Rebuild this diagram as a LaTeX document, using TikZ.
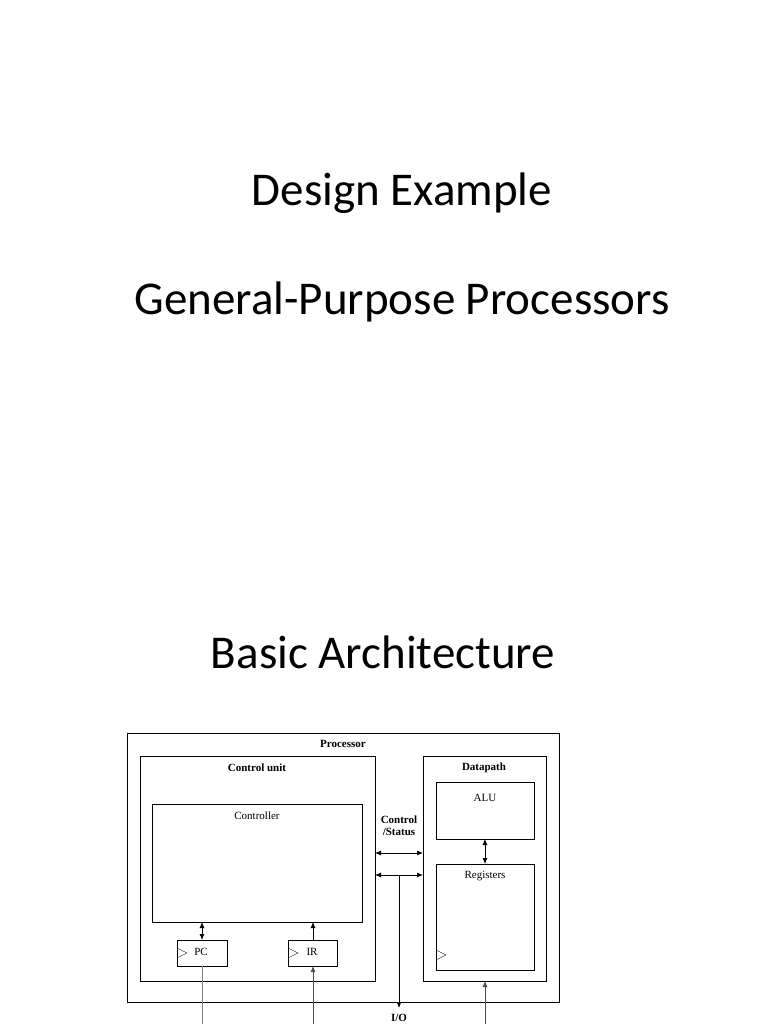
\documentclass[tikz,border=0pt]{standalone}
\usepackage{fontspec}
\setmainfont{Liberation Serif}
\newfontfamily\titlefont{Carlito}
\usetikzlibrary{arrows.meta}
\begin{document}
\begin{tikzpicture}[x=1pt,y=-1pt,
 box/.style={draw,line width=0.8pt},
 ttl/.style={font=\titlefont\fontsize{47}{50}\selectfont},
 lab/.style={font=\fontsize{11}{12}\selectfont},
 blab/.style={font=\bfseries\fontsize{11}{12}\selectfont, align=center},
 arr/.style={-{Latex[length=6pt,width=5pt]},line width=0.8pt},
 darr/.style={{Latex[length=6pt,width=5pt]}-{Latex[length=6pt,width=5pt]},line width=0.8pt},
 gl/.style={draw=gray,line width=1pt}]
\useasboundingbox (0,0) rectangle (768,1024);
\node[ttl] (t1) at (402,193) {Design Example};
\node[ttl] (t2) at (402,302) {General-Purpose Processors};
\node[ttl] (t3) at (383,652) {Basic Architecture};
\draw[box] (127,733) rectangle (559,1002);
\node[blab] (proc) at (343,744) {Processor};
\draw[box] (140,756) rectangle (375,981);
\node[blab] (cu) at (257,768) {Control unit};
\draw[box] (423,756) rectangle (546,981);
\node[blab] (dp) at (484,768) {Datapath};
\node[box,minimum width=210,minimum height=118,anchor=north west] (ctl) at (152,804) {};
\node[lab] at (257,816) {Controller};
\node[box,minimum width=98,minimum height=57,anchor=north west] (alu) at (436,782) {};
\node[lab] at (485,798) {ALU};
\node[box,minimum width=98,minimum height=106,anchor=north west] (reg) at (436,864) {};
\node[lab] at (485,876) {Registers};
\draw (436,950) -- (446,955) -- (436,960);
\node[box,minimum width=50,minimum height=26,anchor=north west] (pc) at (177,940) {};
\node[lab] at (201,952) {PC};
\draw (177,948) -- (187,953) -- (177,958);
\node[box,minimum width=49,minimum height=26,anchor=north west] (ir) at (288,940) {};
\node[lab] at (312,952) {IR};
\draw (288,948) -- (298,953) -- (288,958);
\node[blab] (cs) at (399,826) {Control\\/Status};
\draw[darr] (375,853) -- (423,853);
\draw[darr] (375,875) -- (423,875);
\coordinate (io) at (399,1008);
\draw[arr] (399,875) -- (io);
\node[blab] at (399,1018) {I/O};
\draw[darr] (202,922) -- (202,940);
\draw[arr] (313,940) -- (313,922);
\draw[darr] (485,839) -- (485,864);
\draw[gl] (202,1024) -- (202,966);
\draw[arr,gray!60!black] (313,1024) -- (313,966);
\draw[arr,gray!60!black] (485,1024) -- (485,981);
\end{tikzpicture}
\end{document}
